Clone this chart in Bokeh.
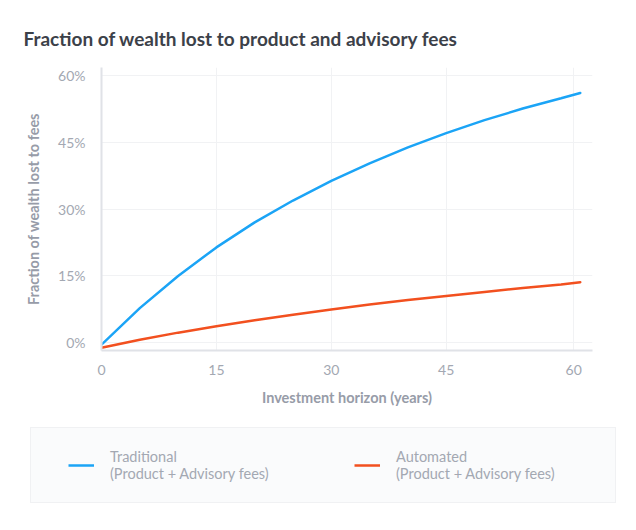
from bokeh.plotting import figure
from bokeh.models import Range1d, FixedTicker, Legend, LegendItem
from bokeh.embed import file_html
from bokeh.resources import INLINE

# dades llegides de la gràfica (anys, % de patrimoni perdut)
anys = [0, 5, 10, 15, 20, 25, 30, 35, 40, 45, 50, 55, 60, 62.5]
tradicional = [-0.4, 7.8, 15.0, 21.4, 27.0, 31.9, 36.3, 40.2, 43.8, 47.0, 49.9, 52.5, 54.8, 56.0]
automatitzat = [-1.1, 0.7, 2.3, 3.75, 5.1, 6.3, 7.5, 8.6, 9.6, 10.5, 11.4, 12.3, 13.1, 13.6]

x_ticks = [0, 15, 30, 45, 61.64]
x_tick_labels = ["0", "15", "30", "45", "60"]
y_ticks = [0, 15, 30, 45, 60]
y_tick_labels = ["0%", "15%", "30%", "45%", "60%"]

etiquetes = ["Traditional\n(Product + Advisory fees)", "Automated\n(Product + Advisory fees)"]
colors = ["#1ba4f6", "#f2501f"]

FONT = "Lato"
GRIS_TEXT = "#a3a8b2"
GRIS_LABEL = "#979ca8"

p = figure(
    frame_width=491, frame_height=283,
    min_border_left=101, min_border_right=36, min_border_top=67, min_border_bottom=69,
    x_range=Range1d(0, 64.1), y_range=Range1d(-1.7, 61.7),
    toolbar_location=None, output_backend="svg",
    title="Fraction of wealth lost to product and advisory fees",
)
p.title.text_font = FONT
p.title.text_font_size = "19px"
p.title.text_font_style = "bold"
p.title.text_color = "#3c4149"
p.title.align = "left"
p.title.offset = -78
p.title.standoff = 36

p.outline_line_color = None
p.background_fill_color = "white"
p.border_fill_color = "white"

for ax in (p.xaxis, p.yaxis):
    ax.major_tick_line_color = None
    ax.minor_tick_line_color = None
    ax.axis_line_color = "#e0e2e7"
    ax.axis_line_width = 2
    ax.major_label_text_font = FONT
    ax.major_label_text_font_size = "14px"
    ax.major_label_text_color = GRIS_TEXT
    ax.axis_label_text_font = FONT
    ax.axis_label_text_font_size = "14.5px"
    ax.axis_label_text_font_style = "bold"
    ax.axis_label_text_color = GRIS_LABEL

p.xaxis.ticker = FixedTicker(ticks=x_ticks)
p.xaxis.major_label_overrides = dict(zip(x_ticks, x_tick_labels))
p.xaxis.axis_label = "Investment horizon (years)"
p.xaxis.major_label_standoff = 8
p.xaxis.axis_label_standoff = 11

p.yaxis.ticker = FixedTicker(ticks=y_ticks)
p.yaxis.major_label_overrides = dict(zip(y_ticks, y_tick_labels))
p.yaxis.axis_label = "Fraction of wealth lost to fees"
p.yaxis.major_label_standoff = 10
p.yaxis.axis_label_standoff = 13

p.grid.grid_line_color = "#f1f2f4"
p.grid.grid_line_width = 1

p.line(anys, tradicional, line_width=2.5, color=colors[0], line_cap="round")
p.line(anys, automatitzat, line_width=2.5, color=colors[1], line_cap="round")

# figura a part per a la llegenda (les línies queden fora del rang visible)
lg = figure(
    frame_width=628, frame_height=95,
    min_border_left=0, min_border_right=0, min_border_top=0, min_border_bottom=0,
    x_range=Range1d(1000, 1001), y_range=Range1d(1000, 1001),
    x_axis_location=None, y_axis_location=None,
    toolbar_location=None, output_backend="svg",
)
lg.grid.visible = False
lg.outline_line_color = None
lg.background_fill_color = "white"
lg.border_fill_color = "white"

l1 = lg.line(anys, tradicional, line_width=2.5, color=colors[0])
l2 = lg.line(anys, automatitzat, line_width=2.5, color=colors[1])

legend = Legend(
    items=[LegendItem(label=etiquetes[0], renderers=[l1]),
           LegendItem(label=etiquetes[1], renderers=[l2])],
    orientation="horizontal", location=(30, 11),
    title=" ", title_location="left", title_standoff=3,
    margin=0, padding=19, spacing=44,
    glyph_width=26, glyph_height=36, label_height=36, label_width=200,
    label_standoff=16,
    label_text_font=FONT, label_text_font_size="14.5px",
    label_text_color=GRIS_TEXT, label_text_line_height=1.25,
    background_fill_color="#fafbfc", background_fill_alpha=1,
    border_line_color="#e5e7ea", border_line_width=1,
)
lg.add_layout(legend, "center")

open("out.html", "w").write(file_html([p, lg], INLINE))
